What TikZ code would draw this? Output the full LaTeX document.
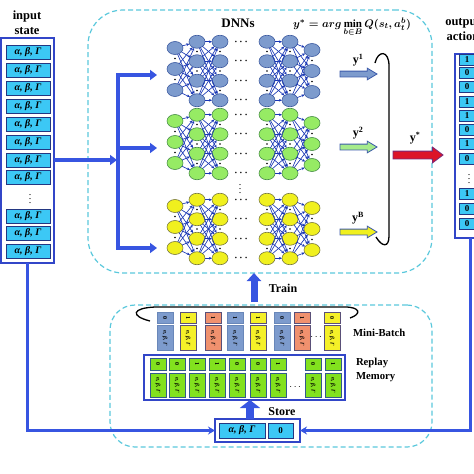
\documentclass[tikz,border=0pt]{standalone}
\usepackage{fontspec}
\setmainfont{Liberation Serif}
\usepackage{amsmath}
\usepackage{graphicx}
\usetikzlibrary{shapes.geometric,shapes.arrows,arrows.meta}
\definecolor{lineblue}{RGB}{55,85,225}
\definecolor{boxblue}{RGB}{50,70,200}
\definecolor{celldark}{RGB}{35,55,130}
\definecolor{cellcyan}{RGB}{60,200,245}
\definecolor{dashcyan}{RGB}{90,200,220}
\definecolor{nblue}{RGB}{125,155,205}
\definecolor{nbluedk}{RGB}{60,90,160}
\definecolor{ngreen}{RGB}{150,235,100}
\definecolor{ngreendk}{RGB}{70,140,70}
\definecolor{nyellow}{RGB}{240,240,30}
\definecolor{nyellowdk}{RGB}{120,120,60}
\definecolor{edgeblue}{RGB}{25,55,180}
\definecolor{salmon}{RGB}{240,145,110}
\definecolor{rgreen}{RGB}{130,225,30}
\definecolor{rpborder}{RGB}{50,90,140}
\definecolor{redarrow}{RGB}{220,20,40}
\definecolor{redborder}{RGB}{120,40,120}
\definecolor{arrowborder}{RGB}{60,90,170}
\definecolor{mbyellow}{RGB}{245,240,40}
\definecolor{mbbd}{RGB}{105,135,185}
\definecolor{mbdk}{RGB}{90,80,120}
\definecolor{ygreen}{RGB}{165,235,140}
\begin{document}
\begin{tikzpicture}[x=1pt,y=-1pt,
 every node/.style={inner sep=0pt, outer sep=0pt},
 bigbox/.style={draw=boxblue, line width=1.5pt, fill=white},
 incell/.style={draw=celldark, fill=cellcyan, line width=0.8pt, minimum width=44pt, minimum height=14pt, font=\fontsize{10}{10}\selectfont\bfseries\itshape},
 digcell/.style={draw=celldark, fill=cellcyan, line width=0.8pt, minimum width=23pt, minimum height=11pt, font=\fontsize{9}{9}\selectfont\bfseries},
 dashbox/.style={draw=dashcyan, line width=1.2pt, dash pattern=on 5pt off 3pt},
 nn/.style={ellipse, line width=0.6pt, minimum width=16pt, minimum height=13pt},
 edge/.style={draw=edgeblue, line width=0.65pt, -{Stealth[length=3.2pt,width=2.8pt]}},
 thickl/.style={draw=lineblue, line width=4pt},
 feedl/.style={draw=lineblue, line width=3pt, -{Stealth[length=7pt,width=8pt]}},
 titletext/.style={font=\fontsize{12.5}{15}\selectfont\bfseries, align=center},
 lbl/.style={font=\fontsize{12}{14}\selectfont\bfseries},
 smlbl/.style={font=\fontsize{10.7}{14}\selectfont\bfseries, align=left, anchor=west},
 yarrow/.style={single arrow, draw=arrowborder, line width=0.8pt, minimum height=37pt, single arrow head extend=3pt, single arrow tip angle=62, inner sep=2.5pt, anchor=tail},
 redarr/.style={single arrow, draw=redborder, fill=redarrow, line width=0.8pt, minimum height=50pt, single arrow head extend=4pt, single arrow tip angle=74, inner sep=3.5pt, anchor=tail},
 fatarrow/.style={draw=lineblue, line width=7pt, -{Triangle[width=14pt,length=8pt]}},
 mbtop/.style={minimum width=16pt, minimum height=11pt, line width=0.8pt, font=\fontsize{6}{6}\selectfont\bfseries},
 mbtall/.style={minimum width=16pt, minimum height=25pt, line width=0.8pt, font=\fontsize{5.5}{6}\selectfont\bfseries\itshape},
 rptop/.style={draw=rpborder, fill=rgreen, minimum width=16pt, minimum height=12pt, line width=0.8pt, font=\fontsize{6}{6}\selectfont\bfseries},
 rptall/.style={draw=rpborder, fill=rgreen, minimum width=16pt, minimum height=24pt, line width=0.8pt, font=\fontsize{5.5}{6}\selectfont\bfseries\itshape},
 dotsn/.style={font=\fontsize{10}{10}\selectfont}
]
\useasboundingbox (0,0) rectangle (474,474);
\clip (0,0) rectangle (474,474);

% dashed regions
\node[dashbox, rounded corners=35pt, minimum width=344pt, minimum height=263pt] (dnnbox) at (260,141.5) {};
\node[dashbox, rounded corners=25pt, minimum width=322pt, minimum height=142pt] (lowbox) at (271,376) {};

% input state
\node[titletext] (intitle) at (27,23) {input\\state};
\node[bigbox, minimum width=53pt, minimum height=225pt] (inbox) at (27.5,150.5) {};
\foreach \yy [count=\k] in {52,70,88,106,124,142,160,177,216,233,251}
  \node[incell] (in\k) at (28,\yy) {α, β, Γ};
\node[dotsn] (invd) at (30,196) {$\boldsymbol{\vdots}$};

% output action
\node[titletext] (outtitle) at (463,30) {output\\action};
\node[bigbox, minimum width=31pt, minimum height=184pt] (outbox) at (470.5,146) {};
\foreach \yy/\dg [count=\k] in {60/1,73/0,87/0,102/1,116/1,130/0,144/1,159/0,194/1,209/0,224/0}
  \node[digcell] (out\k) at (470.5,\yy) {\dg\hspace*{7pt}};
\node[dotsn] (outvd) at (469,176) {$\boldsymbol{\vdots}$};

% title and equation
\node[font=\fontsize{13}{14}\selectfont\bfseries] (dnnt) at (238,23) {DNNs};
\node[font=\fontsize{11}{12}\selectfont] (eq) at (352,27) {$\boldsymbol{y^{*}=arg\min\limits_{b\in B}Q(s_t,a_t^{b})}$};

% networks
\foreach \g/\yc/\fc/\dc in {b/71/nblue/nbluedk, g/144/ngreen/ngreendk, y/229/nyellow/nyellowdk}{
  \foreach \i in {1,2,3}{
    \node[nn,fill=\fc,draw=\dc] (\g a\i) at (175,{\yc-2+(\i-2)*21}) {};
    \node[nn,fill=\fc,draw=\dc] (\g f\i) at (312,{\yc+(\i-2)*21}) {};
  }
  \foreach \i in {1,2,3,4}{
    \node[nn,fill=\fc,draw=\dc] (\g b\i) at (197,{\yc+(\i-2.5)*19.5}) {};
    \node[nn,fill=\fc,draw=\dc] (\g c\i) at (220,{\yc+(\i-2.5)*19.5}) {};
    \node[nn,fill=\fc,draw=\dc] (\g d\i) at (267,{\yc+(\i-2.5)*19.5}) {};
    \node[nn,fill=\fc,draw=\dc] (\g e\i) at (290,{\yc+(\i-2.5)*19.5}) {};
    \node[dotsn] (\g h\i) at (242,{\yc+(\i-2.5)*19.5}) {$\boldsymbol{\cdots}$};
  }
  \foreach \i in {1,2,3}{
    \foreach \j in {1,2,3,4}{
      \draw[edge] (\g a\i) -- (\g b\j);
      \draw[edge] (\g e\j) -- (\g f\i);
    }
  }
  \foreach \i in {1,2,3,4}{
    \foreach \j in {1,2,3,4}{
      \draw[edge] (\g b\i) -- (\g c\j);
      \draw[edge] (\g d\i) -- (\g e\j);
    }
  }
  \foreach \k in {-1,1}{
    \fill (175,{\yc-2+\k*10.5}) circle (0.9pt);
    \fill (312,{\yc+\k*10.5}) circle (0.9pt);
  }
  \foreach \k in {-1,0,1}{
    \foreach \xx in {197,220,267,290}
      \fill (\xx,{\yc+\k*19.5}) circle (0.9pt);
  }
}
\node[dotsn] (netvd) at (240,186) {$\boldsymbol{\vdots}$};

% splitter
\coordinate (spT) at (118,75);
\coordinate (spM) at (118,148);
\coordinate (spB) at (118,248);
\coordinate (spIn) at (117,160);
\coordinate (tg1) at (157,75);
\coordinate (tg2) at (157,148);
\coordinate (tg3) at (157,248);
\draw[thickl, {Triangle[width=10pt,length=7pt]}-{Triangle[width=10pt,length=7pt]}] (tg1) -- (spT) -- (spB) -- (tg3);
\draw[thickl, -{Triangle[width=10pt,length=7pt]}] (spM) -- (tg2);
\draw[thickl, -{Triangle[width=10pt,length=7pt]}] (inbox.east |- spIn) -- (spIn);

% y outputs
\node[lbl] (yl1) at (358,60) {y\textsuperscript{1}};
\node[lbl] (yl2) at (358,133) {y\textsuperscript{2}};
\node[lbl] (ylB) at (358,218) {y\textsuperscript{B}};
\node[yarrow, fill=nblue] (ya1) at (340,74) {};
\node[yarrow, fill=ygreen] (ya2) at (340,147) {};
\node[yarrow, fill=nyellow] (yaB) at (340,232) {};
\draw[black, line width=1.3pt] (375,63) .. controls (378,50) and (389,50) .. (389,66) -- (389,236) .. controls (389,248) and (382,247) .. (376,237);
\node[lbl] (ylstar) at (415,138) {y\textsuperscript{*}};
\node[redarr] (ystar) at (393,155) {};

% train
\coordinate (trS) at (254,302);
\draw[fatarrow] (trS) -- (trS |- dnnbox.south);
\node[lbl] (trainl) at (283,288) {Train};

% mini-batch
\draw[black, line width=1.3pt] (150,321) .. controls (130,316) and (132,308) .. (155,307) -- (345,307) .. controls (360,307) and (362,314) .. (350,318);
\foreach \xx/\fc/\dc/\dg [count=\k] in {165/nblue/mbbd/0, 188/mbyellow/mbdk/1, 213/salmon/mbdk/1, 235/nblue/mbbd/1, 258/mbyellow/mbdk/1, 282/nblue/mbbd/0, 302/salmon/mbdk/1, 332/mbyellow/mbdk/0}{
  \node[mbtop, fill=\fc, draw=\dc] (mt\k) at (\xx,317.5) {\rotatebox{-90}{\dg}};
  \node[mbtall, fill=\fc, draw=\dc] (mb\k) at (\xx,338) {\rotatebox{-90}{α, β, Γ}};
}
\node[dotsn] (mbdots) at (317,337) {$\cdots$};
\node[smlbl] (mbl) at (353,333) {Mini-Batch};

% replay memory
\node[draw=boxblue, line width=1.5pt, minimum width=201pt, minimum height=45pt] (replay) at (244.5,377.5) {};
\foreach \xx/\dg [count=\k] in {158/0,177/0,197/1,217/1,237/0,258/0,278/1,313/0,333/1}{
  \node[rptop] (rt\k) at (\xx,364) {\rotatebox{-90}{\dg}};
  \node[rptall] (rb\k) at (\xx,385) {\rotatebox{-90}{α, β, Γ}};
}
\node[dotsn] (rpdots) at (296,387) {$\cdots$};
\node[smlbl] (rpl) at (356,370) {Replay\\Memory};

% store
\node[bigbox, minimum width=85pt, minimum height=23pt] (store) at (257.5,430.5) {};
\node[incell, minimum width=46pt, minimum height=15pt] (stA) at (242,430.5) {α, β, Γ};
\node[digcell, minimum width=25pt, minimum height=15pt] (stB) at (280.5,430.5) {0};
\coordinate (sax) at (250,0);
\draw[draw=lineblue, line width=8pt, -{Triangle[width=20pt,length=8pt]}] (store.north -| sax) -- (replay.south -| sax);
\node[lbl] (storel) at (282,412) {Store};

% feedback lines
\draw[feedl] (inbox.south) |- (store.west);
\draw[feedl] (outbox.south) |- (store.east);
\end{tikzpicture}
\end{document}
